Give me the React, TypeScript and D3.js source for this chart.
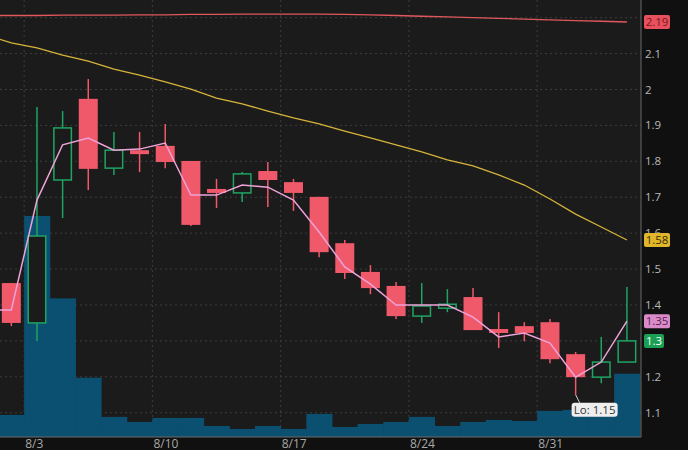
import React from "react";
import * as d3 from "d3";

// daily candles, 7/31 .. 9/3
const dates = ["7/31","8/3","8/4","8/5","8/6","8/7","8/10","8/11","8/12","8/13","8/14","8/17","8/18","8/19","8/20","8/21","8/24","8/25","8/26","8/27","8/28","8/31","9/1","9/2","9/3"];
const opens  = [1.461,1.350,1.748,1.974,1.781,1.831,1.843,1.801,1.723,1.712,1.773,1.742,1.701,1.572,1.492,1.453,1.369,1.391,1.422,1.333,1.341,1.352,1.263,1.199,1.241];
const highs  = [1.461,1.951,1.940,2.029,1.882,1.882,1.904,1.801,1.751,1.770,1.798,1.751,1.701,1.581,1.511,1.464,1.461,1.444,1.447,1.380,1.352,1.361,1.269,1.311,1.450];
const lows   = [1.341,1.300,1.642,1.720,1.762,1.770,1.781,1.620,1.670,1.687,1.673,1.662,1.533,1.472,1.430,1.361,1.350,1.380,1.330,1.280,1.299,1.238,1.150,1.182,1.241];
const closes = [1.350,1.592,1.893,1.779,1.831,1.820,1.798,1.623,1.712,1.765,1.748,1.712,1.547,1.489,1.447,1.369,1.397,1.402,1.330,1.322,1.322,1.249,1.199,1.241,1.300];
// volume, millions
const volumes = [2.2,22.0,13.8,5.9,2.0,1.5,1.9,1.9,1.1,0.8,1.1,0.8,2.3,1.0,1.3,1.5,2.0,1.1,1.5,1.7,1.6,2.6,2.7,2.7,6.3];

// moving averages, first value is 7/30 (off the left edge)
const fastMa = [1.386,1.386,1.692,1.846,1.865,1.831,1.834,1.851,1.706,1.706,1.734,1.728,1.692,1.603,1.506,1.458,1.400,1.400,1.400,1.366,1.311,1.322,1.294,1.199,1.241,1.355];
const midMa = [2.152,2.130,2.116,2.096,2.079,2.057,2.040,2.021,2.001,1.976,1.960,1.940,1.921,1.904,1.884,1.865,1.846,1.826,1.804,1.787,1.762,1.734,1.695,1.653,1.617,1.581];
const slowMa = [2.206,2.206,2.206,2.207,2.207,2.207,2.208,2.208,2.209,2.209,2.210,2.210,2.210,2.210,2.209,2.208,2.206,2.204,2.202,2.200,2.198,2.196,2.194,2.192,2.190,2.188];

const gridTicks = [1.1,1.2,1.3,1.4,1.5,1.6,1.7,1.8,1.9,2.0,2.1,2.2];
const priceTicks = [1.1,1.2,1.3,1.4,1.5,1.6,1.7,1.8,1.9,2.0,2.1];
const dateTicks = ["8/3","8/10","8/17","8/24","8/31"];

const W = 688, H = 450;
const plotRight = 641, plotBottom = 437;
const red = "#f0596a", green = "#1fa463";

const Badge = ({ y, text, fill, color, w }) => (
  <g transform={`translate(644 ${y})`}>
    <rect x={0} y={-7} width={w} height={14} rx={2} fill={fill} />
    <text x={w / 2} y={4} textAnchor="middle" fontSize="11.5" fill={color}>{text}</text>
  </g>
);

const App = () => {
  const x = d3.scaleLinear().domain([-0.5, dates.length - 0.5]).range([-1.5, 639.75]);
  const y = d3.scaleLinear().domain([1.1, 2.0]).range([412.7, 89.5]);
  const v = d3.scaleLinear().domain([0, 22]).range([plotBottom, 216]);
  const step = x(1) - x(0);
  const bw = 19;

  const maLine = d3.line().x((d, i) => x(i - 1)).y(d => y(d));

  const lowIdx = d3.minIndex(lows);

  return (
    <svg width={W} height={H} style={{ position: "absolute", left: 0, top: 0, fontFamily: "'Open Sans', sans-serif" }}>
      <defs>
        <clipPath id="plot"><rect x={0} y={0} width={plotRight} height={plotBottom} /></clipPath>
      </defs>
      <rect width={W} height={H} fill="#101010" />
      <rect width={plotRight} height={plotBottom} fill="#1b1b1b" />

      {/* grid */}
      {gridTicks.map(t => (
        <line key={t} x1={0} x2={plotRight} y1={y(t)} y2={y(t)} stroke="#3d3d3d" strokeDasharray="2,3" />
      ))}
      {dateTicks.map(d => {
        const gx = x(dates.indexOf(d) - 0.5);
        return <line key={d} x1={gx} x2={gx} y1={0} y2={plotBottom} stroke="#3d3d3d" strokeDasharray="2,3" />;
      })}

      {/* volume */}
      {volumes.map((d, i) => (
        <rect key={i} x={x(i - 0.5)} y={v(d)} width={step + 0.5} height={plotBottom - v(d)} fill="#0b5070" />
      ))}

      <g clipPath="url(#plot)">
        <path d={maLine(slowMa)} fill="none" stroke="#e0585e" strokeWidth={1.3} />
        <path d={maLine(midMa)} fill="none" stroke="#d6b43a" strokeWidth={1.3} />

        {dates.map((d, i) => {
          const cx = x(i);
          const up = closes[i] >= opens[i];
          const top = y(Math.max(opens[i], closes[i]));
          const bot = y(Math.min(opens[i], closes[i]));
          if (up) {
            return (
              <g key={d} stroke={green} strokeWidth={1.5} fill="#1b1b1b">
                <line x1={cx} x2={cx} y1={y(highs[i])} y2={top} />
                <line x1={cx} x2={cx} y1={bot} y2={y(lows[i])} />
                <rect x={cx - bw / 2 + 0.75} y={top} width={bw - 1.5} height={Math.max(bot - top, 1)} />
              </g>
            );
          }
          return (
            <g key={d}>
              <line x1={cx} x2={cx} y1={y(highs[i])} y2={y(lows[i])} stroke={red} strokeWidth={1.5} />
              <rect x={cx - bw / 2} y={top} width={bw} height={Math.max(bot - top, 1.5)} fill={red} />
            </g>
          );
        })}

        <path d={maLine(fastMa)} fill="none" stroke="#eea2d8" strokeWidth={1.5} />
      </g>

      {/* axes */}
      <line x1={plotRight} x2={plotRight} y1={0} y2={plotBottom} stroke="#6a6a6a" />
      <line x1={0} x2={plotRight} y1={plotBottom} y2={plotBottom} stroke="#6a6a6a" />
      {priceTicks.map(t => (
        <text key={t} x={645} y={y(t) + 4} fontSize="11.5" fill="#b8b8b8">{d3.format("")(+t.toFixed(1))}</text>
      ))}
      {dateTicks.map(d => (
        <text key={d} x={x(dates.indexOf(d) - 0.5) + 1} y={448} fontSize="12" fill="#a8a8a8">{d}</text>
      ))}

      {/* last-value badges */}
      <Badge y={y(slowMa[slowMa.length - 1])} text="2.19" fill="#e8505e" color="#7a1820" w={26} />
      <Badge y={y(midMa[midMa.length - 1])} text="1.58" fill="#e2b62a" color="#3a2c00" w={26} />
      <Badge y={y(fastMa[fastMa.length - 1])} text="1.35" fill="#d98bc9" color="#5a2350" w={26} />
      <Badge y={y(closes[closes.length - 1])} text="1.3" fill="#1a9f55" color="#ffffff" w={20} />

      {/* low marker */}
      <line x1={x(lowIdx)} y1={y(lows[lowIdx])} x2={x(lowIdx) + 4} y2={y(lows[lowIdx]) + 8} stroke="#d0d0d0" />
      <g transform={`translate(${x(lowIdx) - 4} ${y(lows[lowIdx]) + 8})`}>
        <rect x={0} y={0} width={46} height={14} rx={3} fill="#eeeeee" />
        <text x={23} y={11} textAnchor="middle" fontSize="11.5" fill="#333">{`Lo: ${d3.format(".2f")(lows[lowIdx])}`}</text>
      </g>
    </svg>
  );
};

export default App;
